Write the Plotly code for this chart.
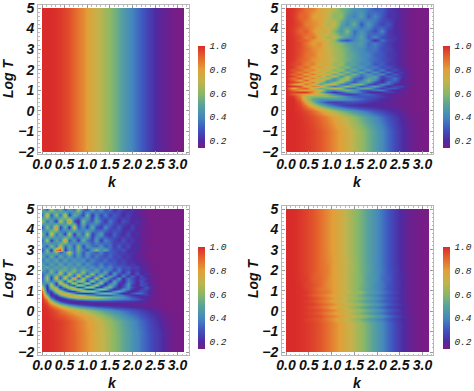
import plotly.graph_objects as go

W, H = 474, 391

# Axis samples
k22 = [0, .15, .3, .45, .6, .75, .9, 1.05, 1.2, 1.35, 1.5, 1.65, 1.8, 1.95, 2.1, 2.25, 2.4, 2.55, 2.7, 2.85, 3.0, 3.1416]
k30 = [0, .1, .2, .3, .4, .5, .6, .7, .8, .9, 1.0, 1.1, 1.2, 1.3, 1.4, 1.5, 1.6, 1.7, 1.8, 1.9, 2.0, 2.1, 2.2, 2.3, 2.4, 2.5, 2.6, 2.7, 2.9, 3.1416]

x_ticks = [0, .5, 1, 1.5, 2, 2.5, 3]
x_labels = ["0.0", "0.5", "1.0", "1.5", "2.0", "2.5", "3.0"]
y_ticks = [-2, -1, 0, 1, 2, 3, 4, 5]
cb_ticks = [.2, .4, .6, .8, 1.0]
cb_labels = ["0.2", "0.4", "0.6", "0.8", "1.0"]

# Panel 1 (top left): values in percent
t1 = [-2, 5]
v1 = [
    [100,100,99,97,94,89,84,78,72,66,60,54,47,41,35,29,24,19,17,15,14,14],
    [100,100,99,97,94,89,84,78,72,66,60,54,47,41,35,29,24,19,17,15,14,14],
]

# Panel 2 (top right)
t2 = [-2,-1,-.3,0,.15,.3,.45,.6,.72,.82,.92,1.0,1.1,1.2,1.3,1.4,1.5,1.6,1.7,1.8,1.9,2.0,2.15,2.3,2.5,2.7,3.0,3.3,3.45,3.6,3.9,4.2,4.6,5]
v2 = [
    [100,100,99,98,96,93,89,84,79,74,68,62,55,48,41,34,27,21,17,15,14,14],
    [100,100,99,98,96,93,89,84,79,74,68,62,55,48,41,34,27,21,17,15,14,14],
    [100,100,99,97,94,90,85,79,73,67,61,54,47,41,35,29,24,19,16,15,14,14],
    [100,100,98,95,90,82,74,66,58,52,46,40,35,30,26,23,20,17,15,14,14,14],
    [100,100,97,91,82,71,60,50,42,36,32,28,25,23,21,19,18,16,15,14,14,14],
    [100,100,96,86,70,54,42,33,27,23,21,20,19,18,18,17,16,15,15,14,14,14],
    [100,100,94,78,56,38,28,24,25,28,28,26,23,21,19,18,17,16,15,14,14,14],
    [100,100,90,68,50,44,44,46,46,42,38,34,28,24,20,18,17,15,15,14,14,14],
    [100,98,86,66,60,60,60,56,48,38,32,30,30,28,24,20,17,16,15,14,14,14],
    [100,92,84,80,78,70,58,42,30,24,26,32,34,28,22,18,18,17,15,14,14,14],
    [100,96,98,98,84,60,34,22,28,40,44,34,22,18,22,26,22,16,15,14,14,14],
    [100,90,82,80,82,72,44,40,52,58,48,32,28,36,38,26,18,18,15,14,14,14],
    [100,78,88,92,70,54,60,70,62,38,34,50,52,34,24,30,30,20,15,14,14,14],
    [100,98,94,72,86,82,56,36,48,62,50,28,36,48,34,20,26,26,16,14,14,14],
    [100,84,72,90,74,50,66,72,40,34,56,58,30,24,40,36,20,18,16,15,14,14],
    [100,96,90,76,88,62,44,60,66,40,30,46,50,28,22,38,28,18,17,14,14,14],
    [100,92,78,92,70,80,50,42,66,60,32,38,56,40,20,30,34,18,15,15,14,14],
    [100,88,94,76,88,62,72,44,56,68,36,30,50,46,24,28,36,20,16,14,14,14],
    [100,96,84,90,74,84,56,70,44,62,48,34,44,48,26,34,28,22,15,15,14,14],
    [100,90,92,78,88,68,76,52,64,44,58,36,46,34,42,24,32,20,17,14,14,14],
    [100,95,85,90,76,80,62,70,50,60,40,52,32,44,28,36,22,24,15,14,14,14],
    [100,93,92,82,86,70,76,58,64,46,54,36,46,30,38,24,28,18,16,14,14,14],
    [100,97,88,90,78,82,68,70,56,58,44,46,36,38,28,30,22,20,15,14,14,14],
    [100,96,93,85,86,74,76,62,64,50,50,40,40,30,32,24,22,17,15,14,14,14],
    [100,98,92,89,82,80,72,68,60,56,48,44,38,34,29,26,21,18,15,14,14,14],
    [100,98,94,88,86,78,74,66,62,54,50,42,40,32,30,24,22,17,15,14,14,14],
    [100,98,94,90,84,80,72,66,60,54,46,42,36,36,28,26,21,18,15,14,14,14],
    [100,98,95,88,80,84,70,64,58,50,44,48,34,38,30,24,20,18,15,14,14,14],
    [100,98,93,91,82,76,72,62,34,28,40,46,38,22,36,26,22,18,15,14,14,14],
    [100,98,94,86,88,76,64,70,56,46,38,50,32,40,28,24,22,17,15,14,14,14],
    [100,97,90,92,82,74,76,58,44,60,34,44,36,28,40,24,20,18,15,14,14,14],
    [100,98,94,86,84,80,66,72,50,40,54,30,46,34,26,30,20,17,15,14,14,14],
    [100,98,90,90,80,78,72,60,62,46,38,48,32,40,30,22,22,17,15,14,14,14],
    [100,98,94,88,86,78,72,68,56,54,44,42,38,30,32,24,21,17,15,14,14,14],
]

# Panel 3 (bottom left)
t3 = [-2,-1,-.5,-.25,0,.1,.2,.3,.4,.5,.6,.7,.8,.9,1.0,1.1,1.2,1.3,1.4,1.5,1.6,1.7,1.8,1.9,2.0,2.15,2.3,2.5,2.7,2.9,3.0,3.2,3.5,3.8,4.1,4.4,4.7,5]
v3 = [
    [100,100,99,98,97,95,93,91,88,85,82,79,75,71,68,64,60,56,52,48,44,40,36,32,28,25,22,19,15,14],
    [100,100,99,98,97,95,93,91,88,85,82,79,75,71,68,64,60,56,52,48,44,40,36,32,28,25,22,19,15,14],
    [100,100,99,98,97,95,93,90,87,84,81,78,74,70,66,62,58,54,50,46,42,38,34,30,26,23,20,17,15,14],
    [100,100,98,96,94,92,89,86,83,80,76,72,68,64,60,56,52,48,44,40,37,34,30,27,24,21,18,16,15,14],
    [100,99,97,94,90,86,82,78,74,70,66,62,58,54,50,46,43,40,37,34,31,29,26,23,21,19,17,15,14,14],
    [100,99,96,91,86,80,75,70,65,61,57,53,49,45,42,39,36,33,31,29,27,25,23,21,19,18,16,15,14,14],
    [100,98,93,86,78,70,63,57,51,46,42,38,35,32,30,28,26,25,23,22,21,20,19,18,17,16,15,14,14,14],
    [100,97,88,78,66,55,46,38,32,28,25,23,21,20,20,19,19,18,18,18,17,17,17,16,16,15,15,14,14,14],
    [100,94,80,62,45,33,25,20,18,17,17,17,17,17,17,17,18,18,18,18,18,18,17,16,16,15,15,14,14,14],
    [100,90,68,42,26,19,17,17,19,21,24,26,27,27,27,27,26,25,24,24,23,22,20,18,16,15,15,14,14,14],
    [100,84,50,25,17,20,28,36,44,48,50,52,52,50,48,45,42,40,38,36,33,29,25,20,17,15,15,14,14,14],
    [99,72,32,17,24,42,58,68,74,76,76,74,70,66,60,54,50,46,42,36,30,24,20,18,16,15,14,14,14,14],
    [98,55,20,24,50,72,80,78,70,62,52,44,36,32,30,32,38,40,36,28,22,20,22,24,20,16,15,14,14,14],
    [95,38,17,45,74,78,60,38,24,20,20,26,40,54,60,58,46,30,20,18,28,36,34,24,18,15,14,14,14,14],
    [90,26,26,68,72,40,20,24,46,70,80,74,50,28,20,26,44,52,40,24,18,24,30,24,18,15,14,14,14,14],
    [82,20,48,76,42,20,44,78,82,50,24,22,46,68,60,32,18,28,44,38,22,17,26,28,20,15,14,14,14,14],
    [70,18,66,58,20,50,84,56,22,34,76,70,28,22,50,58,32,18,30,42,28,18,20,30,22,15,14,14,14,14],
    [56,24,74,30,40,82,38,26,78,60,22,48,70,28,24,52,42,18,26,44,24,18,30,24,18,16,14,14,14,14],
    [44,40,62,22,76,46,28,86,30,44,80,24,44,64,20,36,50,22,22,42,30,17,28,26,17,15,14,14,14,14],
    [36,56,38,46,68,26,80,32,66,62,22,70,30,56,44,20,48,32,18,38,30,18,30,20,17,16,14,14,14,14],
    [32,66,24,74,28,76,30,84,26,66,42,26,70,24,56,36,24,46,20,36,28,20,26,24,15,15,14,14,14,14],
    [30,62,30,66,36,62,52,34,74,30,68,36,42,62,26,48,34,22,40,22,34,20,28,18,20,15,14,14,14,14],
    [32,50,46,48,64,32,70,36,62,48,34,66,30,52,42,24,46,24,32,32,18,30,20,22,16,15,14,14,14,14],
    [40,38,58,34,66,38,56,54,38,64,36,50,46,34,50,26,38,34,22,36,20,28,18,20,15,15,14,14,14,14],
    [50,36,56,40,52,54,42,60,42,54,46,36,52,32,42,36,26,38,24,30,22,24,20,17,15,14,14,14,14,14],
    [46,52,40,50,44,52,42,48,40,46,38,44,36,42,34,40,30,34,28,30,24,26,20,18,16,15,14,14,14,14],
    [48,36,50,38,52,36,48,38,50,34,44,36,32,40,30,34,30,26,28,22,24,20,19,17,15,14,14,14,14,14],
    [36,50,38,52,34,50,36,46,38,44,32,40,34,30,36,28,30,24,26,22,21,19,17,16,15,14,14,14,14,14],
    [50,34,56,32,52,36,50,32,46,32,44,30,38,32,28,34,26,28,22,24,20,18,17,15,14,14,14,14,14,14],
    [36,56,38,62,30,46,72,34,52,30,44,36,32,40,28,32,30,24,26,21,22,18,16,15,14,14,14,14,14,14],
    [26,60,20,86,96,22,50,34,56,36,28,46,60,40,50,32,28,26,30,21,20,21,17,15,15,14,14,14,14,14],
    [46,30,62,36,70,32,52,30,60,26,46,36,32,44,30,36,24,32,22,28,20,21,16,16,15,14,14,14,14,14],
    [32,66,24,52,36,82,30,48,24,56,36,28,46,24,40,32,26,22,30,21,24,18,18,15,14,14,14,14,14,14],
    [58,26,76,34,50,24,70,22,50,32,66,24,36,48,26,22,34,24,20,28,19,22,16,16,15,14,14,14,14,14],
    [28,62,36,84,24,56,20,78,30,44,26,54,30,24,42,30,24,32,22,19,26,18,18,15,15,14,14,14,14,14],
    [64,34,52,22,70,40,88,28,19,60,38,30,50,34,22,38,28,20,30,24,18,22,17,16,14,14,14,14,14,14],
    [34,80,28,64,34,74,24,54,42,26,56,22,42,26,38,24,32,26,19,26,20,18,18,15,14,14,14,14,14,14],
    [54,30,72,40,60,28,50,34,68,36,28,50,32,46,28,36,22,30,24,20,24,17,16,15,14,14,14,14,14,14],
]

# Panel 4 (bottom right)
t4 = [-2,-.6,-.4,-.25,-.1,.05,.2,.35,.5,.65,.8,.95,1.1,1.3,1.6,2,2.4,3,4,5]
v4 = [
    [100,100,99,98,96,93,89,84,79,74,68,62,55,48,41,34,27,21,17,15,14,14],
    [100,100,99,98,96,93,89,84,79,74,68,62,55,48,41,34,27,21,17,15,14,14],
    [100,100,99,97,95,92,87,81,75,69,63,56,49,43,37,31,25,20,17,15,14,14],
    [100,100,99,98,96,94,89,85,80,75,69,63,57,50,43,36,28,22,17,15,14,14],
    [100,100,99,97,95,91,85,80,75,69,63,56,49,42,36,30,24,20,16,15,14,14],
    [100,100,99,98,96,93,89,84,78,73,67,61,54,47,40,33,27,21,17,15,14,14],
    [100,100,99,97,94,90,84,78,72,66,60,53,46,40,34,28,23,19,16,15,14,14],
    [100,100,99,98,96,92,88,83,77,72,66,60,53,46,39,32,26,21,17,15,14,14],
    [100,100,99,97,94,89,84,78,72,66,60,53,46,40,34,29,24,19,16,15,14,14],
    [100,100,99,98,95,91,86,81,75,69,63,58,52,44,37,31,26,20,16,15,14,14],
    [100,100,99,97,92,88,83,78,72,66,62,54,46,40,35,29,24,19,16,15,14,14],
    [100,100,99,98,94,90,87,80,76,70,64,60,50,44,38,32,26,20,16,15,14,14],
    [100,100,99,97,93,88,85,80,74,68,62,55,48,42,36,30,24,20,16,15,14,14],
    [100,100,99,96,94,90,84,80,75,68,63,56,50,42,37,30,25,20,16,15,14,14],
    [100,100,98,97,92,90,85,79,74,69,62,57,48,44,35,32,24,20,16,15,14,14],
    [100,100,98,96,93,89,86,79,75,68,63,56,50,43,37,30,25,19,16,15,14,14],
    [100,100,98,96,93,89,85,80,74,69,63,56,49,43,36,30,24,19,16,15,14,14],
    [100,100,98,96,93,89,84,79,74,68,62,56,49,43,36,30,24,19,16,15,14,14],
    [100,100,98,96,93,89,84,79,74,68,62,56,49,43,36,30,24,19,16,15,14,14],
    [100,100,98,96,93,89,84,79,74,68,62,56,49,43,36,30,24,19,16,15,14,14],
]

ZMIN, ZMAX = 0.14, 1.0
stops = [(.14,"#781c86"),(.2,"#4f2aa2"),(.3,"#3f55c0"),(.4,"#4488bd"),(.5,"#58a29c"),
         (.6,"#8ab866"),(.7,"#c2b34c"),(.8,"#e2a038"),(.9,"#e5672d"),(1.0,"#d92b2a")]
colorscale = [[(v - ZMIN) / (ZMAX - ZMIN), c] for v, c in stops]

FONT = "Liberation Sans"
TICKF = dict(family=FONT, size=14, color="#111", weight="bold", style="italic")
CBF = dict(family="Liberation Mono", size=9.5, color="#222", style="italic")
TITLEF = dict(family=FONT, size=14, color="#111", weight="bold", style="italic")

# panel geometry in page pixels
panels = [
    dict(k=k22, t=t1, z=v1, hx=(42,184),  hy=(8,152),   fx=(38,189),  fy=(5,154),   cx=198, cy=(46,148),  kxy=(112,182), lxy=(8,78)),
    dict(k=k22, t=t2, z=v2, hx=(286,429), hy=(8,152),   fx=(282,433), fy=(5,154),   cx=443, cy=(46,148),  kxy=(357,182), lxy=(253,78)),
    dict(k=k30, t=t3, z=v3, hx=(42,184),  hy=(209,352), fx=(38,189),  fy=(206,355), cx=198, cy=(247,349), kxy=(112,383), lxy=(8,278)),
    dict(k=k22, t=t4, z=v4, hx=(286,429), hy=(209,352), fx=(282,433), fy=(206,355), cx=443, cy=(247,349), kxy=(357,383), lxy=(253,278)),
]

fig = go.Figure()
layout = {}
anns = []
for i, p in enumerate(panels):
    a, b = 2 * i + 1, 2 * i + 2
    xh, yh = f"x{a}", f"y{a}"
    xf, yf = f"x{b}", f"y{b}"
    fig.add_trace(go.Heatmap(
        x=p["k"], y=p["t"], z=[[c / 100 for c in r] for r in p["z"]],
        xaxis=xh, yaxis=yh, zmin=ZMIN, zmax=ZMAX, zsmooth="best",
        colorscale=colorscale, hoverinfo="skip",
        colorbar=dict(x=p["cx"] / W, xref="paper", xanchor="left", xpad=0, ypad=0,
                      y=1 - (p["cy"][0] + p["cy"][1]) / 2 / H, yanchor="middle",
                      len=p["cy"][1] - p["cy"][0], lenmode="pixels",
                      thickness=7, thicknessmode="pixels", outlinewidth=0,
                      tickvals=cb_ticks, ticktext=cb_labels, ticks="outside", ticklen=3,
                      tickcolor="rgba(0,0,0,0)", tickfont=CBF),
    ))
    # transparent carrier for the framed axes
    fig.add_trace(go.Scatter(x=[1], y=[1], xaxis=xf, yaxis=yf, mode="markers",
                             marker=dict(opacity=0), hoverinfo="skip", showlegend=False))
    layout[f"xaxis{a}"] = dict(domain=[p["hx"][0] / W, p["hx"][1] / W], range=[0, 3.1416],
                               anchor=yh, visible=False)
    layout[f"yaxis{a}"] = dict(domain=[1 - p["hy"][1] / H, 1 - p["hy"][0] / H], range=[-2, 5],
                               anchor=xh, visible=False)
    ppx = (p["hx"][1] - p["hx"][0]) / 3.1416
    ppy = (p["hy"][1] - p["hy"][0]) / 7
    layout[f"xaxis{b}"] = dict(domain=[p["fx"][0] / W, p["fx"][1] / W],
                               range=[-(p["hx"][0] - p["fx"][0]) / ppx, 3.1416 + (p["fx"][1] - p["hx"][1]) / ppx],
                               anchor=yf, showgrid=False, zeroline=False, mirror="ticks",
                               showline=True, linecolor="#b8b8b8", linewidth=1, automargin=False,
                               ticks="inside", ticklen=3, tickcolor="#999", tickangle=0,
                               ticklabeloverflow="allow", ticklabelstandoff=-3,
                               tickvals=x_ticks, ticktext=x_labels, tickfont=TICKF,
                               minor=dict(dtick=.1, ticks="inside", ticklen=1.5, tickcolor="#bbb"))
    layout[f"yaxis{b}"] = dict(domain=[1 - p["fy"][1] / H, 1 - p["fy"][0] / H],
                               range=[-2 - (p["fy"][1] - p["hy"][1]) / ppy, 5 + (p["hy"][0] - p["fy"][0]) / ppy],
                               anchor=xf, showgrid=False, zeroline=False, mirror="ticks",
                               showline=True, linecolor="#b8b8b8", linewidth=1, automargin=False,
                               ticks="inside", ticklen=3, tickcolor="#999",
                               ticklabeloverflow="allow",
                               tickvals=y_ticks, tickfont=TICKF,
                               minor=dict(dtick=.2, ticks="inside", ticklen=1.5, tickcolor="#bbb"))
    anns.append(dict(text="k", x=p["kxy"][0] / W, y=1 - p["kxy"][1] / H, xref="paper", yref="paper",
                     xanchor="center", yanchor="middle", showarrow=False, font=TITLEF))
    anns.append(dict(text="Log T", x=p["lxy"][0] / W, y=1 - p["lxy"][1] / H, xref="paper", yref="paper",
                     xanchor="center", yanchor="middle", textangle=-90, showarrow=False, font=TITLEF))

fig.update_layout(width=W, height=H, margin=dict(l=0, r=0, t=0, b=0, autoexpand=False), paper_bgcolor="white",
                  plot_bgcolor="rgba(0,0,0,0)", showlegend=False, annotations=anns, **layout)
fig.write_html("out.html", config=dict(displayModeBar=False),
               post_script="document.body.style.margin='0';document.documentElement.style.overflow='hidden';")
